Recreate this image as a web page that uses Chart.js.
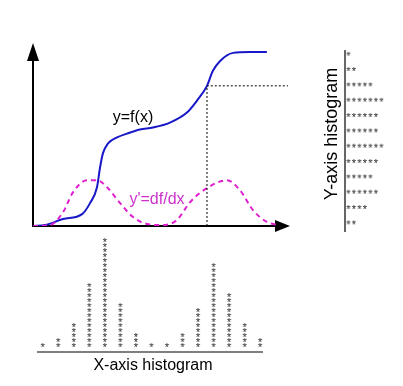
<!DOCTYPE html>
<html><head><meta charset="utf-8">
<script src="https://cdn.jsdelivr.net/npm/chart.js@4"></script>
<style>
html,body{margin:0;padding:0;background:#fff;}
#wrap{position:relative;width:403px;height:386px;overflow:hidden;background:#fff;}
#wrap canvas{position:absolute;left:0;top:0;}
</style></head><body>
<div id="wrap">
<canvas id="main" width="403" height="386"></canvas>
<canvas id="xh" width="403" height="386"></canvas>
<canvas id="yh" width="403" height="386"></canvas>
</div>
<script>
// ---- data ----
const fX = [0,0.47,1.17,1.91,2.22,2.49,2.61,2.72,2.92,3.27,3.66,4.16,4.67,5.33,5.99,6.38,6.77,7.0,7.28,7.78,8.44,9.1];
const fY = [0,0.05,0.38,0.65,1.25,2.12,3.21,3.97,4.51,4.84,5.05,5.27,5.38,5.65,6.2,6.85,7.66,8.48,9.02,9.46,9.51,9.51];
const dX = [0,0.66,1.17,1.56,2.1,2.49,2.88,3.39,3.89,4.44,5.06,5.6,6.11,6.77,7.55,8.05,8.56,9.1,9.53];
const dY = [0,0.05,0.76,1.85,2.5,2.5,2.12,1.25,0.49,0.11,0.05,0.33,1.3,2.07,2.5,1.96,0.87,0.22,0.05];
const x0 = 6.77, fx0 = 7.66, guideEnd = 9.92;
const xHistCounts = [1,2,5,13,22,9,3,1,1,3,8,17,11,5,2];
const yHistCounts = [1,2,5,7,6,6,7,6,5,6,4,2];
const labels = {f:"y=f(x)", d:"y'=df/dx", xh:"X-axis histogram", yh:"Y-axis histogram"};
const markChar = '*';

const FONT = '"Liberation Sans", Arial, sans-serif';
Chart.defaults.font.family = FONT;
Chart.defaults.animation = false;

function pts(xs, ys){ return xs.map((x,i)=>({x:x, y:ys[i]})); }

// asterisk glyph used as point style for histogram marks
function starGlyph(){
  const c = document.createElement('canvas'); c.width = 8; c.height = 8;
  const g = c.getContext('2d');
  g.font = '11px ' + FONT; g.textAlign = 'center'; g.textBaseline = 'alphabetic';
  g.fillStyle = '#222'; g.fillText(markChar, 4, 10.3);
  return c;
}
const STAR = starGlyph();

// ---- main chart ----
const axesPlugin = {
  id:'axesArrows',
  beforeDatasetsDraw(chart){
    const {ctx} = chart; const xs = chart.scales.x, ys = chart.scales.y;
    const ox = xs.getPixelForValue(0), oy = ys.getPixelForValue(0);
    const right = chart.chartArea.right, top = chart.chartArea.top;
    ctx.save();
    ctx.strokeStyle = '#000'; ctx.fillStyle = '#000'; ctx.lineWidth = 2;
    ctx.beginPath(); ctx.moveTo(ox, oy); ctx.lineTo(right-8, oy); ctx.stroke();
    ctx.beginPath(); ctx.moveTo(ox, oy+1); ctx.lineTo(ox, top+8); ctx.stroke();
    ctx.beginPath(); ctx.moveTo(right, oy); ctx.lineTo(right-15, oy-6); ctx.lineTo(right-15, oy+6); ctx.closePath(); ctx.fill();
    ctx.beginPath(); ctx.moveTo(ox, top); ctx.lineTo(ox-6, top+18); ctx.lineTo(ox+6, top+18); ctx.closePath(); ctx.fill();
    ctx.restore();
  },
  afterDatasetsDraw(chart){
    const {ctx} = chart;
    ctx.save();
    ctx.font = '16px ' + FONT; ctx.textAlign = 'center'; ctx.textBaseline = 'middle';
    ctx.fillStyle = '#000'; ctx.fillText(labels.f, 133, 118);
    ctx.fillStyle = '#cc33cc'; ctx.fillText(labels.d, 157, 200);
    ctx.restore();
  }
};

new Chart(document.getElementById('main'), {
  type:'scatter',
  data:{datasets:[
    {data:[{x:x0,y:0},{x:x0,y:fx0},{x:guideEnd,y:fx0}], showLine:true, borderColor:'#000', borderWidth:1, borderDash:[2,2], pointRadius:0, tension:0},
    {data:pts(dX,dY), showLine:true, borderColor:'#e020d0', borderWidth:2, borderDash:[5,4], pointRadius:0, cubicInterpolationMode:'monotone'},
    {data:pts(fX,fY), showLine:true, borderColor:'#1818c8', borderWidth:2, pointRadius:0, cubicInterpolationMode:'monotone'}
  ]},
  options:{responsive:false, devicePixelRatio:1, animation:false,
    layout:{padding:{left:33, right:113, top:43, bottom:160}},
    plugins:{legend:{display:false}, tooltip:{enabled:false}},
    scales:{x:{type:'linear', min:0, max:10, display:false}, y:{type:'linear', min:0, max:10, display:false}}
  },
  plugins:[axesPlugin]
});

// ---- X histogram ----
const xhPts = [];
xHistCounts.forEach((c,i)=>{ for(let k=1;k<=c;k++) xhPts.push({x:i+1, y:k}); });
new Chart(document.getElementById('xh'), {
  type:'scatter',
  data:{datasets:[{data:xhPts, pointStyle:STAR, pointRadius:4}]},
  options:{responsive:false, devicePixelRatio:1, animation:false,
    layout:{padding:{left:35, right:135, top:230, bottom:36}},
    plugins:{legend:{display:false}, tooltip:{enabled:false}},
    scales:{x:{type:'linear', min:0.5, max:15.5, display:false}, y:{type:'linear', min:0, max:24, display:false}}
  },
  plugins:[{id:'xhDeco', afterDatasetsDraw(chart){
    const {ctx, chartArea:a} = chart;
    ctx.save(); ctx.strokeStyle='#000'; ctx.lineWidth=1.2;
    ctx.beginPath(); ctx.moveTo(a.left+2, a.bottom+2); ctx.lineTo(a.right-5, a.bottom+2); ctx.stroke();
    ctx.fillStyle='#000'; ctx.font='16px '+FONT; ctx.textAlign='center'; ctx.textBaseline='middle';
    ctx.fillText(labels.xh, 153, 366);
    ctx.restore();
  }}]
});

// ---- Y histogram ----
const yhPts = [];
yHistCounts.forEach((c,i)=>{ for(let k=1;k<=c;k++) yhPts.push({x:k, y:i+1}); });
new Chart(document.getElementById('yh'), {
  type:'scatter',
  data:{datasets:[{data:yhPts, pointStyle:STAR, pointRadius:4}]},
  options:{responsive:false, devicePixelRatio:1, animation:false,
    layout:{padding:{left:343, right:2, top:46, bottom:156}},
    plugins:{legend:{display:false}, tooltip:{enabled:false}},
    scales:{x:{type:'linear', min:0, max:10, display:false}, y:{type:'linear', min:0.5, max:12.5, reverse:true, display:false}}
  },
  plugins:[{id:'yhDeco', afterDatasetsDraw(chart){
    const {ctx, chartArea:a} = chart;
    ctx.save(); ctx.strokeStyle='#000'; ctx.lineWidth=1.2;
    ctx.beginPath(); ctx.moveTo(a.left+2, a.top+4); ctx.lineTo(a.left+2, a.bottom+2); ctx.stroke();
    ctx.fillStyle='#000'; ctx.font='18px '+FONT; ctx.textAlign='center'; ctx.textBaseline='middle';
    ctx.translate(332, 134); ctx.rotate(-Math.PI/2); ctx.fillText(labels.yh, 0, 0);
    ctx.restore();
  }}]
});
</script>
</body></html>
